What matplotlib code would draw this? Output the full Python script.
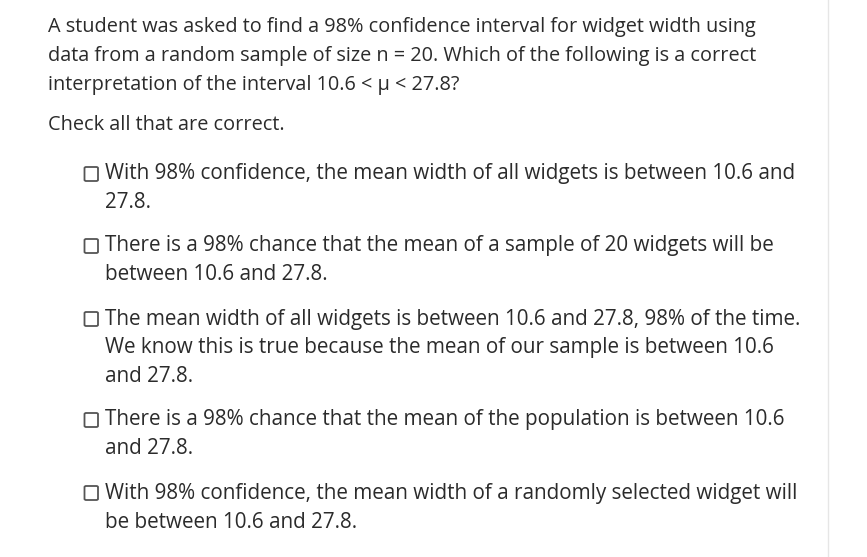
import matplotlib.pyplot as plt
from matplotlib.patches import FancyBboxPatch

W, H = 867, 557

question = [
    "A student was asked to find a 98% confidence interval for widget width using",
    "data from a random sample of size n = 20. Which of the following is a correct",
    "interpretation of the interval 10.6 < \u03bc < 27.8?",
]
instruction = "Check all that are correct."
options = [
    ["With 98% confidence, the mean width of all widgets is between 10.6 and", "27.8."],
    ["There is a 98% chance that the mean of a sample of 20 widgets will be", "between 10.6 and 27.8."],
    ["The mean width of all widgets is between 10.6 and 27.8, 98% of the time.",
     "We know this is true because the mean of our sample is between 10.6", "and 27.8."],
    ["There is a 98% chance that the mean of the population is between 10.6", "and 27.8."],
    ["With 98% confidence, the mean width of a randomly selected widget will", "be between 10.6 and 27.8."],
]
option_tops = [172, 244, 317, 418, 491]

plt.rcParams['font.family'] = ['Open Sans', 'DejaVu Sans']
fig = plt.figure(figsize=(W / 100, H / 100), dpi=100)
fig.patch.set_facecolor('white')

def fy(py):
    return 1 - py / H

fs = 14.3
fs_opt = 14.85
color = '#2b2b2b'
for i, line in enumerate(question):
    fig.text(48 / W, fy(27 + 29 * i), line, fontsize=fs, color=color, va='center')
fig.text(48 / W, fy(125), instruction, fontsize=fs, color=color, va='center')

for top, lines in zip(option_tops, options):
    box = FancyBboxPatch((84.5 / W, fy(top + 9)), 13.5 / W, 14 / H,
                         boxstyle="round,pad=0,rounding_size=0.002",
                         transform=fig.transFigure, facecolor='white',
                         edgecolor='#555555', linewidth=1.3)
    fig.add_artist(box)
    for j, line in enumerate(lines):
        fig.text(105 / W, fy(top + 2 + 29 * j), line, fontsize=fs_opt, color=color, va='center')

fig.add_artist(plt.Line2D([828 / W, 828 / W], [0, 1], transform=fig.transFigure,
                          color='#e6e6e6', linewidth=1))
fig.savefig('out.png', dpi=100)
